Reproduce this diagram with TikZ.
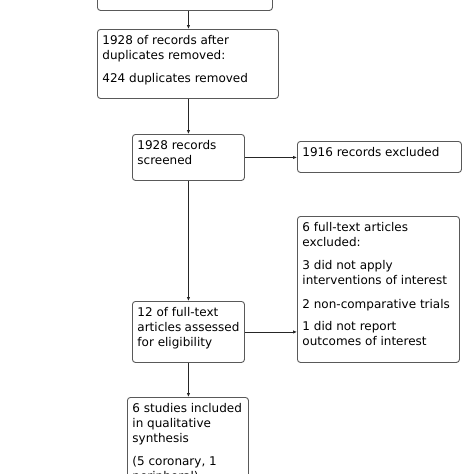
\documentclass[tikz,border=0pt]{standalone}
\usepackage{fontspec}
\setmainfont{DejaVu Sans}
\usetikzlibrary{arrows.meta}
\newcommand{\bxt}[3]{\parbox[c][#2pt][t]{#1pt}{\raggedright\strut #3}}
\begin{document}
\begin{tikzpicture}[x=1pt,y=-1pt,
  box/.style={draw=black!65, line width=0.9pt, rounded corners=3pt, anchor=north west,
    inner xsep=5pt, inner ysep=4.5pt, font=\fontsize{12}{15}\selectfont},
  arr/.style={-{Latex[length=4pt,width=3.5pt]}, line width=0.9pt, draw=black!85}]
\useasboundingbox (0,0) rectangle (474,474);
\clip (0,0) rectangle (474,474);
\node[box] (b1) at (97,-40) {\bxt{165}{41}{}};
\node[box] (b2) at (97,29) {\bxt{171}{60}{1928 of records after\\duplicates removed:\\[8.5pt]424 duplicates removed}};
\node[box] (b3) at (132,134) {\bxt{102}{37}{1928 records\\screened}};
\node[box] (e1) at (297,141) {\bxt{154}{22}{1916 records excluded}};
\node[box] (b4) at (132,301) {\bxt{102}{52}{12 of full-text\\articles assessed\\for eligibility}};
\node[box] (e2) at (297,216) {\bxt{152}{137}{6 full-text articles\\excluded:\\[8.5pt]3 did not apply\\interventions of interest\\[8.5pt]2 non-comparative trials\\[7pt]1 did not report\\outcomes of interest}};
\node[box] (b5) at (127,397) {\bxt{111}{113}{6 studies included\\in qualitative\\synthesis\\[8.5pt](5 coronary, 1\\peripheral)}};
\draw[arr] (b3.north |- b1.south) -- (b3.north |- b2.north);
\draw[arr] (b3.north |- b2.south) -- (b3.north);
\draw[arr] (b3.east) -- (b3.east -| e1.west);
\draw[arr] (b3.south) -- (b4.north);
\draw[arr] (b4.east) -- (b4.east -| e2.west);
\draw[arr] (b4.south) -- (b4.south |- b5.north);
\end{tikzpicture}
\end{document}
